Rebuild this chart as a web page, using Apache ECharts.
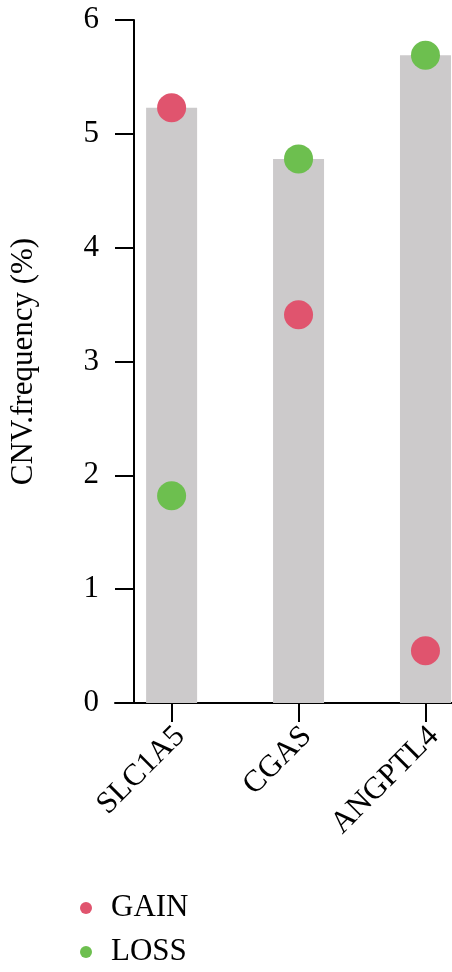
<!DOCTYPE html>
<html>
<head>
<meta charset="utf-8">
<script src="https://cdn.jsdelivr.net/npm/echarts@6/dist/echarts.min.js"></script>
<style>
html,body{margin:0;padding:0;background:#fff;}
#chart{width:452px;height:972px;}
</style>
</head>
<body>
<div id="chart"></div>
<script>
var categories = ['SLC1A5', 'CGAS', 'ANGPTL4'];
var gainValues = [5.23, 3.41, 0.46];
var lossValues = [1.82, 4.78, 5.69];
var yTicks = [0, 1, 2, 3, 4, 5, 6];

var FONT = '"Liberation Serif", "DejaVu Serif", serif';
var idx = categories.map(function (c, i) { return i; });
var barData = idx.map(function (i) { return [i, Math.max(gainValues[i], lossValues[i])]; });
var gainData = idx.map(function (i) { return [i, gainValues[i]]; });
var lossData = idx.map(function (i) { return [i, lossValues[i]]; });

var chart = echarts.init(document.getElementById('chart'), null, {renderer: 'canvas'});
chart.setOption({
  animation: false,
  backgroundColor: '#ffffff',
  grid: {left: 113, right: 0, top: 20, bottom: 269, containLabel: false},
  xAxis: {
    type: 'value',
    min: -0.446,
    max: 2.209,
    splitLine: {show: false},
    axisLine: {show: true, onZero: false, lineStyle: {color: '#000', width: 2}},
    axisTick: {show: true, length: 19, lineStyle: {color: '#000', width: 2}, customValues: idx},
    axisLabel: {
      customValues: idx,
      rotate: 45,
      margin: 37,
      padding: [0, -12, 0, 0],
      color: '#000',
      fontFamily: FONT,
      fontSize: 31,
      formatter: function (v) { return categories[Math.round(v)]; }
    }
  },
  yAxis: {
    type: 'value',
    min: 0,
    max: 6,
    interval: 1,
    offset: -19,
    name: 'CNV.frequency (%)',
    nameLocation: 'middle',
    nameGap: 95,
    nameTextStyle: {color: '#000', fontFamily: FONT, fontSize: 31},
    splitLine: {show: false},
    axisLine: {show: true, onZero: false, lineStyle: {color: '#000', width: 2}},
    axisTick: {show: true, length: 19, lineStyle: {color: '#000', width: 2}},
    axisLabel: {
      margin: 35,
      color: '#000',
      fontFamily: FONT,
      fontSize: 31,
      customValues: yTicks
    }
  },
  legend: {
    orient: 'vertical',
    left: 80,
    top: 892,
    padding: 0,
    itemWidth: 40,
    itemHeight: 12,
    itemGap: 12,
    icon: 'circle',
    textStyle: {color: '#000', fontFamily: FONT, fontSize: 31, lineHeight: 32},
    data: ['GAIN', 'LOSS']
  },
  series: [
    {
      name: 'total',
      type: 'bar',
      data: barData,
      barWidth: 51,
      itemStyle: {color: '#CCCACB'},
      silent: true,
      z: 1
    },
    {
      name: 'GAIN',
      type: 'scatter',
      data: gainData,
      symbol: 'circle',
      symbolSize: 29,
      itemStyle: {color: '#E0546E', opacity: 1},
      z: 3
    },
    {
      name: 'LOSS',
      type: 'scatter',
      data: lossData,
      symbol: 'circle',
      symbolSize: 29,
      itemStyle: {color: '#6DBF4F', opacity: 1},
      z: 3
    }
  ]
});
</script>
</body>
</html>
